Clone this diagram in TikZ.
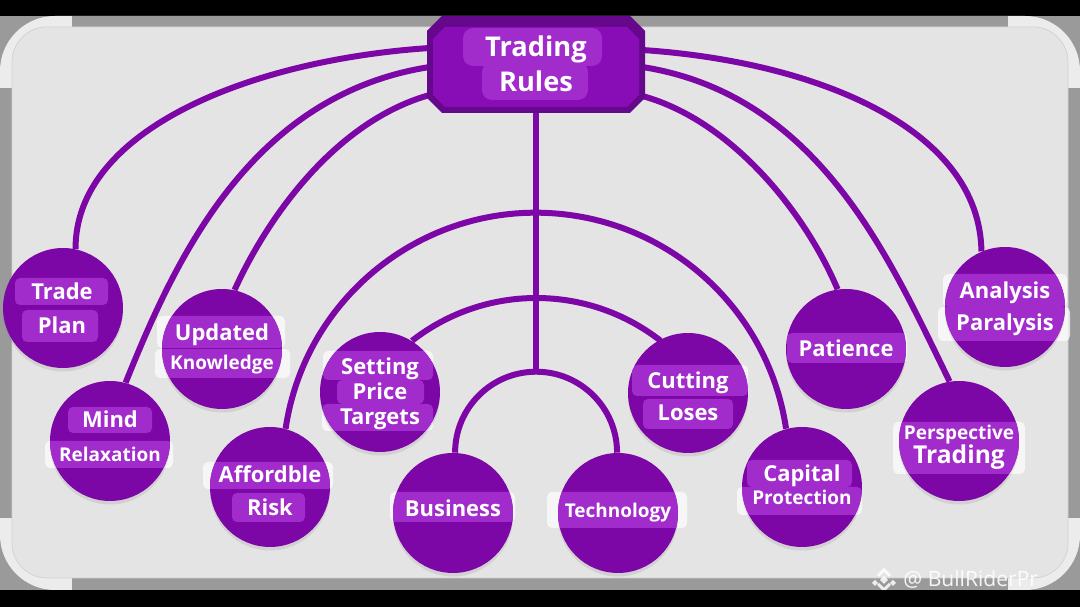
\documentclass[tikz,border=0pt]{standalone}
\usepackage{fontspec}
\setmainfont{Open Sans}
\usetikzlibrary{calc,shadows}
\definecolor{bgpanel}{HTML}{E4E4E4}
\definecolor{bgcorner}{HTML}{ECECEC}
\definecolor{bggray}{HTML}{9A9A9A}
\definecolor{pmain}{HTML}{7C06A6}
\definecolor{plight}{HTML}{A22BCB}
\definecolor{pdark}{HTML}{65088B}
\definecolor{pbox}{HTML}{890DB6}
\pgfdeclarelayer{bg}\pgfdeclarelayer{lines}\pgfdeclarelayer{fg}
\pgfsetlayers{bg,lines,main,fg}
\newcommand\wband[4]{\fill[white,opacity=0.7,rounded corners=0.1cm] (#1,#2) rectangle (#3,#4);}
\newcommand\pband[5]{\begin{scope}\clip (#1.center) circle[radius=1.2cm];
  \fill[plight,rounded corners=0.1cm] (#2,#3) rectangle (#4,#5);\end{scope}}
\begin{document}
\begin{tikzpicture}[x=0.02cm,y=-0.02cm,
  bubble/.style={circle,fill=pmain,minimum size=2.4cm,inner sep=0pt,
    drop shadow={shadow xshift=0pt,shadow yshift=-2pt,opacity=0.18}},
  conn/.style={draw=pmain,line width=0.12cm},
  lbl/.style={text=white,inner sep=0pt,font=\bfseries\fontsize{12.5}{14}\selectfont,text height=8.9pt,text depth=0pt},
  lbls/.style={lbl,font=\bfseries\fontsize{10.8}{12}\selectfont,text height=7.7pt},
  lblm/.style={lbl,font=\bfseries\fontsize{14}{16}\selectfont,text height=10pt},
  lblb/.style={lbl,font=\bfseries\fontsize{15.5}{18}\selectfont,text height=11.1pt},
  wm/.style={text=white,opacity=0.9,inner sep=0pt,font=\fontsize{12}{14}\selectfont}]
\useasboundingbox (0,0) rectangle (1080,607);
% ---------- background ----------
\begin{pgfonlayer}{bg}
\fill[black] (0,0) rectangle (1080,607);
\fill[bggray] (0,16) rectangle (1080,590);
\fill[bgcorner,rounded corners=1.1cm] (0,16) rectangle (1080,590);
\fill[bggray] (72,16) rectangle (1008,27);
\fill[bggray] (72,578) rectangle (1008,590);
\fill[bggray] (0,88) rectangle (12,518);
\fill[bggray] (1068,88) rectangle (1080,518);
\fill[bgpanel,rounded corners=0.7cm] (12,27) rectangle (1068,578);
\draw[black!18,line width=0.4pt,rounded corners=0.7cm] (12,27) rectangle (1068,578);
\end{pgfonlayer}
% ---------- root box ----------
\fill[pdark] (442,16) -- (630,16) -- (645,31) -- (645,98) -- (630,113) -- (442,113) -- (427,98) -- (427,31) -- cycle;
\fill[pbox] (445,27) -- (627,27) -- (639,39) -- (639,95) -- (627,107) -- (445,107) -- (433,95) -- (433,39) -- cycle;
\node[inner sep=0pt,minimum width=4.36cm,minimum height=1.94cm] (root) at (536,64.5) {};
\fill[plight,rounded corners=0.2cm] (463,28) rectangle (602,66);
\fill[plight,rounded corners=0.2cm] (482,62) rectangle (588,100);
\node[lblb] (rootA) at (536,47) {Trading};
\node[lblb] (rootB) at (536,82) {Rules};
% ---------- circles ----------
\node[bubble] (trade) at (63,308) {};
\node[bubble] (mind)  at (110,441) {};
\node[bubble] (upd)   at (222,349) {};
\node[bubble] (aff)   at (270,487) {};
\node[bubble] (set)   at (380,392) {};
\node[bubble] (bus)   at (453,513) {};
\node[bubble] (tech)  at (618,513) {};
\node[bubble] (cut)   at (688,393) {};
\node[bubble] (cap)   at (802,487) {};
\node[bubble] (pat)   at (846,349) {};
\node[bubble] (persp) at (959,441) {};
\node[bubble] (ana)   at (1005,307) {};
\coordinate (smalltop) at (536,372);
% ---------- connectors ----------
\begin{pgfonlayer}{lines}
% white halos of the label bands
\wband{15}{278}{108}{305}\wband{22}{310}{98}{342}
\wband{68}{407}{152}{433}\wband{45}{441}{173}{468}
\wband{157}{316}{285}{348}\wband{155}{349}{290}{378}
\wband{203}{462}{333}{489}\wband{232}{493}{305}{522}
\wband{323}{351}{433}{380}\wband{337}{380}{424}{404}\wband{322}{404}{433}{431}
\wband{390}{492}{515}{522}
\wband{547}{492}{687}{528}
\wband{632}{365}{748}{396}\wband{643}{399}{733}{429}
\wband{747}{460}{852}{487}\wband{737}{487}{862}{515}
\wband{787}{333}{907}{363}
\wband{893}{422}{1025}{474}
\wband{943}{274}{1067}{307}\wband{938}{307}{1070}{341}
% lines
\draw[conn] ($(root.west)+(3,-16.5)$) .. controls (250,60) and (75,130) .. (trade.78);
\draw[conn] ($(root.west)+(3,2.5)$) .. controls (250,95) and (175,260) .. (mind.75);
\draw[conn] ($(root.west)+(3,30.5)$) .. controls (340,120) and (271,210) .. (upd.78);
\draw[conn] ($(root.east)+(-3,-14.5)$) .. controls (820,62) and (980,130) .. (ana.113);
\draw[conn] ($(root.east)+(-3,2.5)$) .. controls (820,95) and (890,260) .. (persp.99);
\draw[conn] ($(root.east)+(-3,31.5)$) .. controls (730,120) and (804,210) .. (pat.98);
\draw[conn] (root.south) -- (smalltop);
\draw[conn] (aff.75) arc[start angle=171.6,end angle=8.4,radius=5.06cm];
\draw[conn] (set.58) arc[start angle=128,end angle=52,radius=4.04cm];
\draw[conn] (bus.88) arc[start angle=180,end angle=0,radius=1.62cm];
\end{pgfonlayer}
% ---------- label bands ----------
\pband{trade}{15}{278}{108}{305}\pband{trade}{22}{310}{98}{342}
\pband{mind}{68}{407}{152}{433}\pband{mind}{45}{441}{173}{468}
\pband{upd}{157}{316}{285}{348}\pband{upd}{155}{349}{290}{378}
\pband{aff}{203}{462}{333}{489}\pband{aff}{232}{493}{305}{522}
\pband{set}{323}{351}{433}{380}\pband{set}{337}{380}{424}{404}\pband{set}{322}{404}{433}{431}
\pband{bus}{390}{492}{515}{522}
\pband{tech}{547}{492}{687}{528}
\pband{cut}{632}{365}{748}{396}\pband{cut}{643}{399}{733}{429}
\pband{cap}{747}{460}{852}{487}\pband{cap}{737}{487}{862}{515}
\pband{pat}{787}{333}{907}{363}
\pband{persp}{893}{422}{1025}{474}
\pband{ana}{943}{274}{1067}{307}\pband{ana}{938}{307}{1070}{341}
% ---------- texts ----------
\node[lbl]  (tradeA) at (62,292) {Trade};
\node[lbl]  (tradeB) at (62,326) {Plan};
\node[lbl]  (mindA)  at (110,420) {Mind};
\node[lbls] (mindB)  at (110,455) {Relaxation};
\node[lbl]  (updA)   at (222,333) {Updated};
\node[lbls] (updB)   at (222,363) {Knowledge};
\node[lbl]  (affA)   at (270,475) {Affordble};
\node[lbl]  (affB)   at (270,508) {Risk};
\node[lbl]  (setA)   at (380,367) {Setting};
\node[lbl]  (setB)   at (380,392) {Price};
\node[lbl]  (setC)   at (380,417) {Targets};
\node[lbl]  (busA)   at (453,509) {Business};
\node[lbls] (techA)  at (618,511) {Technology};
\node[lbl]  (cutA)   at (688,381) {Cutting};
\node[lbl]  (cutB)   at (688,413) {Loses};
\node[lbl]  (capA)   at (802,474) {Capital};
\node[lbls] (capB)   at (802,498) {Protection};
\node[lbl]  (patA)   at (846,349) {Patience};
\node[lbls] (perspA) at (959,433) {Perspective};
\node[lblm] (perspB) at (959,455) {Trading};
\node[lbl]  (anaA)   at (1005,291) {Analysis};
\node[lbl]  (anaB)   at (1005,323) {Paralysis};
% ---------- watermark ----------
\begin{pgfonlayer}{fg}
\begin{scope}[white,opacity=0.85]
\fill (884,576) -- (888,580) -- (884,584) -- (880,580) -- cycle;
\fill (875,580) -- (878,583) -- (875,586) -- (872,583) -- cycle;
\fill (893,580) -- (896,583) -- (893,586) -- (890,583) -- cycle;
\fill (884,568) -- (891,575) -- (889,577) -- (884,572) -- (879,577) -- (877,575) -- cycle;
\fill (884,592) -- (891,585) -- (889,583) -- (884,588) -- (879,583) -- (877,585) -- cycle;
\end{scope}
\node[wm,anchor=base west] (wmtext) at (903,587) {@ BullRiderPr};
\fill[black] (0,590) rectangle (1080,607);
\end{pgfonlayer}
\end{tikzpicture}
\end{document}
